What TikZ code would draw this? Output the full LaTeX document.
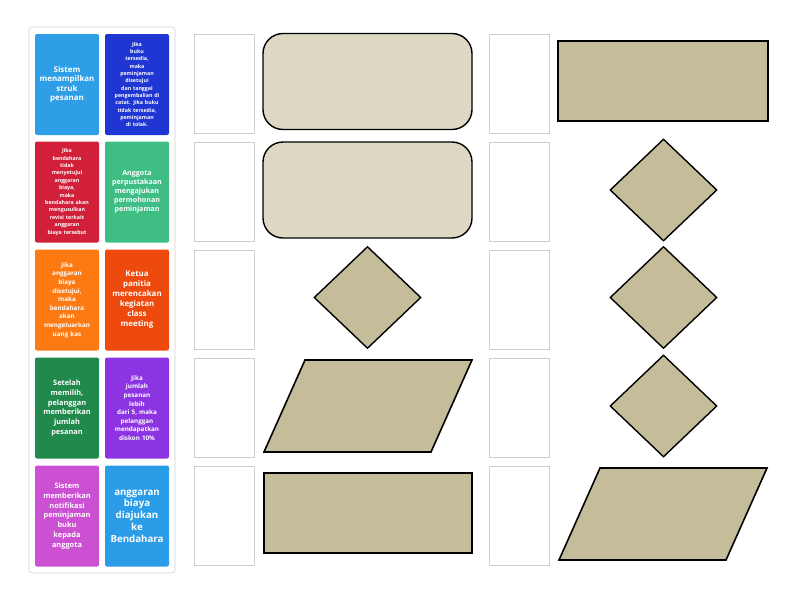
\documentclass[tikz,border=0pt]{standalone}
\usepackage{fontspec}
\setmainfont{Open Sans}
\usetikzlibrary{shapes.geometric}

\definecolor{skyblue}{HTML}{2E9FE6}
\definecolor{royalblue}{HTML}{1F36D2}
\definecolor{crimson}{HTML}{D2203A}
\definecolor{mint}{HTML}{3EBE85}
\definecolor{tangerine}{HTML}{FD7A12}
\definecolor{vermilion}{HTML}{EE4A0E}
\definecolor{forest}{HTML}{21894B}
\definecolor{violet}{HTML}{8C33E2}
\definecolor{orchid}{HTML}{CB50D2}
\definecolor{ocean}{HTML}{2A9CE8}
\definecolor{sand}{HTML}{DCD8C4}
\definecolor{khaki}{HTML}{C5BD99}
\definecolor{slotgrey}{HTML}{CFCFCF}

\begin{document}
\begin{tikzpicture}[x=1pt, y=-1pt,
    tile/.style 2 args = {shape=rectangle, rounded corners=2pt,
      minimum width=64pt, minimum height=101pt, text width=62pt,
      inner sep=0pt, align=center, text=white,
      font=\bfseries\fontsize{#1}{#2}\selectfont},
    slot/.style = {shape=rectangle, draw=slotgrey, line width=0.6pt,
      minimum width=60pt, minimum height=99pt},
    terminal/.style = {shape=rectangle, rounded corners=20pt, draw,
      line width=1.4pt, fill=sand, minimum width=209pt, minimum height=96pt},
    process/.style = {shape=rectangle, draw, line width=1.6pt, fill=khaki,
      minimum height=80pt},
    decision/.style = {shape=diamond, draw, line width=1.4pt, fill=khaki,
      inner sep=0pt, minimum width=107pt, minimum height=102pt},
    inout/.style = {draw, line width=1.6pt, fill=khaki}]
  \useasboundingbox (0,0) rectangle (800,600);

  % panel with the cards
  \node[shape=rectangle, rounded corners=3pt, draw=slotgrey, line width=0.6pt,
    minimum width=146pt, minimum height=546pt] (panel) at (102,300) {};
  \node[tile={7.9}{9.3}, fill=skyblue] (struk) at (67,84.5)
    {Sistem\\menampilkan\\struk\\pesanan};
  \node[tile={5.3}{7.35}, fill=royalblue] (buku) at (137,84.5)
    {Jika\\buku\\tersedia,\\maka\\peminjaman\\disetujui\\dan tanggal\\pengembalian di\\catat. Jika buku\\tidak tersedia,\\peminjaman\\di tolak.};
  \node[tile={5.3}{7.4}, fill=crimson] (revisi) at (67,192)
    {Jika\\bendahara\\tidak\\menyetujui\\anggaran\\biaya,\\maka\\bendahara akan\\mengusulkan\\revisi terkait\\anggaran\\biaya tersebut};
  \node[tile={7.1}{9}, fill=mint] (anggota) at (137,192)
    {Anggota\\perpustakaan\\mengajukan\\permohonan\\peminjaman};
  \node[tile={6.3}{8.6}, fill=tangerine] (kas) at (67,300)
    {Jika\\anggaran\\biaya\\disetujui,\\maka\\bendahara\\akan\\mengeluarkan\\uang kas};
  \node[tile={7.9}{10}, fill=vermilion] (ketua) at (137,300)
    {Ketua\\panitia\\merencakan\\kegiatan\\class\\meeting};
  \node[tile={7.4}{9.7}, fill=forest] (memilih) at (67,408)
    {Setelah\\memilih,\\pelanggan\\memberikan\\jumlah\\pesanan};
  \node[tile={6.3}{8.6}, fill=violet] (diskon) at (137,408)
    {Jika\\jumlah\\pesanan\\lebih\\dari 5, maka\\pelanggan\\mendapatkan\\diskon 10\%};
  \node[tile={7.4}{9.7}, fill=orchid] (notif) at (67,516)
    {Sistem\\memberikan\\notifikasi\\peminjaman\\buku\\kepada\\anggota};
  \node[tile={9.7}{11.7}, fill=ocean] (ajuan) at (137,516)
    {anggaran\\biaya\\diajukan\\ke\\Bendahara};

  % empty drop slots
  \foreach \r/\y in {1/83.5, 2/191.5, 3/299.5, 4/407.5, 5/515.5} {
    \node[slot] (slotA\r) at (224,\y) {};
    \node[slot] (slotB\r) at (519.5,\y) {};
  }

  % flowchart symbols, left column
  \node[terminal] (termA1) at (367.5,81.5) {};
  \node[terminal] (termA2) at (367.5,190) {};
  \node[decision] (decA3) at (367.5,297.5) {};
  \draw[inout] (305,360) -- (472,360) -- (431,452) -- (264,452) -- cycle;
  \node[process, minimum width=208pt] (procA5) at (368,513) {};

  % flowchart symbols, right column
  \node[process, minimum width=210pt] (procB1) at (663,81) {};
  \node[decision] (decB2) at (663.5,190) {};
  \node[decision] (decB3) at (663.5,297.5) {};
  \node[decision] (decB4) at (663.5,406) {};
  \draw[inout] (600,468) -- (767,468) -- (726,560) -- (559,560) -- cycle;
\end{tikzpicture}
\end{document}
